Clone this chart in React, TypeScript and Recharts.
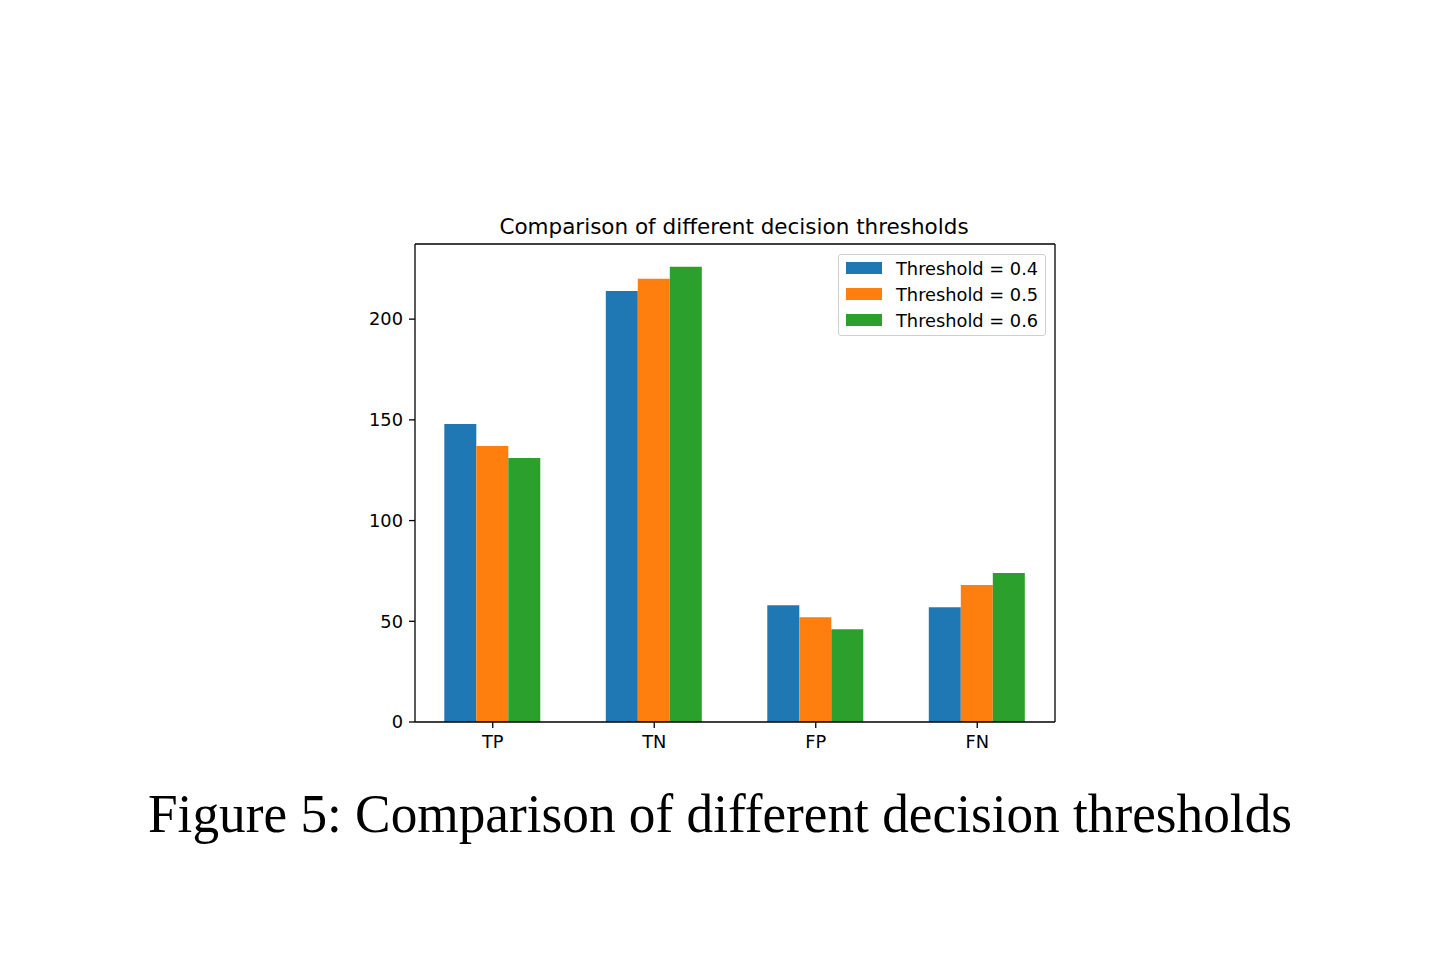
import { BarChart, Bar, XAxis, YAxis, Legend } from 'recharts'

// confusion-matrix counts per decision threshold
const categories = ['TP', 'TN', 'FP', 'FN']
const threshold04 = [148, 214, 58, 57]
const threshold05 = [137, 220, 52, 68]
const threshold06 = [131, 226, 46, 74]
const yTicks = [0, 50, 100, 150, 200]

const seriesNames = ['Threshold = 0.4', 'Threshold = 0.5', 'Threshold = 0.6']
const COLORS = ['#1f77b4', '#ff7f0e', '#2ca02c']

const data = categories.map((name, i) => ({
  name,
  t04: threshold04[i],
  t05: threshold05[i],
  t06: threshold06[i],
}))

// matplotlib-style 5% headroom above the tallest bar
const yMax = Math.max(...threshold04, ...threshold05, ...threshold06) * 1.05

const FONT = '"DejaVu Sans", sans-serif'
const AXIS = '#000'
const TICK_FONT = 17.8

function BoxLegend({ payload }: { payload?: Array<{ value: string; color: string }> }) {
  if (!payload) return null
  return (
    <div
      style={{
        border: '1px solid #d0d0d0',
        borderRadius: 3,
        background: 'rgba(255,255,255,0.8)',
        padding: '0 7px',
        fontFamily: FONT,
        fontSize: TICK_FONT,
        color: '#000',
        boxSizing: 'border-box',
        height: 82,
        whiteSpace: 'nowrap',
      }}
    >
      {payload.map((p) => (
        <div key={p.value} style={{ display: 'flex', alignItems: 'center', height: 26 }}>
          <span style={{ flex: 'none', width: 36, height: 12, background: p.color, marginRight: 14 }} />
          <span>{p.value}</span>
        </div>
      ))}
    </div>
  )
}

export default function App() {
  return (
    <div style={{ position: 'fixed', left: 0, top: 0, width: 1440, height: 960, background: '#fff' }}>
      <BarChart
        width={1440}
        height={960}
        data={data}
        margin={{ top: 243, right: 384, bottom: 208, left: 355 }}
        barCategoryGap="20%"
        barGap={0}
      >
        <XAxis
          dataKey="name"
          height={30}
          padding={{ left: -3, right: -3 }}
          stroke={AXIS}
          strokeWidth={1.3}
          tickSize={6}
          tickMargin={7}
          tick={{ fontSize: TICK_FONT, fontFamily: FONT, fill: '#000' }}
        />
        {/* top and right spines */}
        <XAxis
          xAxisId="top"
          dataKey="name"
          orientation="top"
          height={1}
          padding={{ left: -3, right: -3 }}
          stroke={AXIS}
          strokeWidth={1.3}
          tick={false}
          tickLine={false}
        />
        <YAxis
          width={60}
          domain={[0, yMax]}
          ticks={yTicks}
          allowDataOverflow
          stroke={AXIS}
          strokeWidth={1.3}
          tickSize={6}
          tickMargin={6}
          tick={{ fontSize: TICK_FONT, fontFamily: FONT, fill: '#000' }}
        />
        <YAxis
          yAxisId="right"
          orientation="right"
          width={1}
          domain={[0, yMax]}
          stroke={AXIS}
          strokeWidth={1.3}
          tick={false}
          tickLine={false}
        />
        <Legend
          layout="vertical"
          align="center"
          verticalAlign="middle"
          content={<BoxLegend />}
          wrapperStyle={{ position: 'absolute', left: 838, top: 254, width: 208, height: 82 }}
        />
        <Bar dataKey="t04" name={seriesNames[0]} fill={COLORS[0]} isAnimationActive={false} />
        <Bar dataKey="t05" name={seriesNames[1]} fill={COLORS[1]} isAnimationActive={false} />
        <Bar dataKey="t06" name={seriesNames[2]} fill={COLORS[2]} isAnimationActive={false} />
      </BarChart>
      <svg
        width={1440}
        height={960}
        style={{ position: 'absolute', left: 0, top: 0, pointerEvents: 'none' }}
      >
        <text x={734} y={234} textAnchor="middle" fontFamily={FONT} fontSize={21.5} fill="#000">
          Comparison of different decision thresholds
        </text>
        <text
          x={148}
          y={832}
          textLength={1144}
          lengthAdjust="spacingAndGlyphs"
          fontFamily='"Liberation Serif", "DejaVu Serif", serif'
          fontSize={54}
          fill="#000"
        >
          Figure 5: Comparison of different decision thresholds
        </text>
      </svg>
    </div>
  )
}
